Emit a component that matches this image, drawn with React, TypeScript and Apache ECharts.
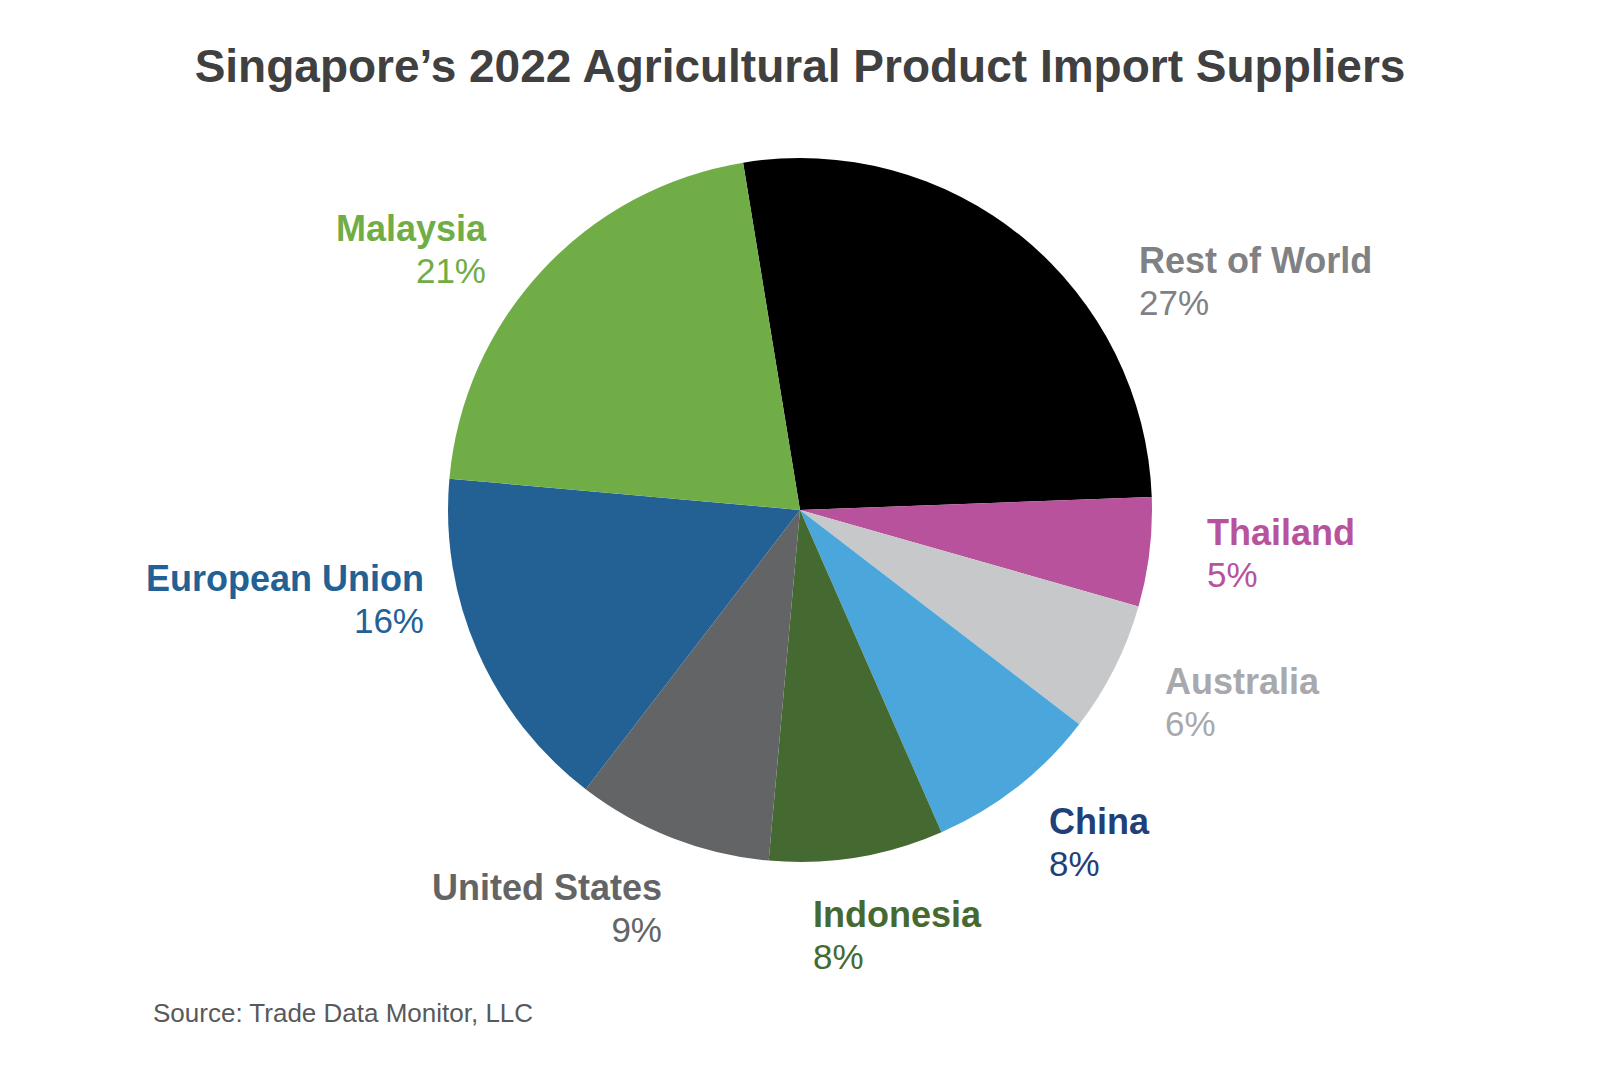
import { useEffect, useRef } from 'react'
import * as echarts from 'echarts'

// Singapore 2022 agricultural import suppliers, share in percent (clockwise from top)
const suppliers = ['Rest of World', 'Thailand', 'Australia', 'China', 'Indonesia', 'United States', 'European Union', 'Malaysia']
const shares = [27, 5, 6, 8, 8, 9, 16, 21]

const sliceColors = ['#000000', '#b8529c', '#c7c8ca', '#4ba7db', '#456a31', '#636466', '#236195', '#70ad47']
const labelColors = ['#808184', '#b8529c', '#a7a9ac', '#213f79', '#456a31', '#636466', '#236195', '#70ad47']

// label anchor [x, y, align] in pixels
const labelAnchors: [number, number, string][] = [
  [1139, 281, 'left'],
  [1207, 553, 'left'],
  [1165, 702, 'left'],
  [1049, 842, 'left'],
  [813, 935, 'left'],
  [662, 908, 'right'],
  [424, 599, 'right'],
  [486, 249, 'right'],
]

export default function App() {
  const chartRef = useRef<HTMLDivElement>(null)

  useEffect(() => {
    if (!chartRef.current) return
    const chart = echarts.init(chartRef.current, null, { renderer: 'svg' })

    const option = {
      animation: false,
      backgroundColor: '#ffffff',
      textStyle: { fontFamily: '"Liberation Sans", Arial, sans-serif' },
      title: {
        text: 'Singapore’s 2022 Agricultural Product Import Suppliers',
        left: 795,
        top: 38,
        textAlign: 'center',
        textStyle: {
          fontSize: 46,
          fontWeight: 'bold',
          color: '#404041',
          fontFamily: '"Liberation Sans", Arial, sans-serif',
        },
      },
      graphic: [
        {
          type: 'text',
          left: 153,
          top: 1000,
          style: {
            text: 'Source: Trade Data Monitor, LLC',
            fontSize: 26,
            fill: '#58595b',
            fontFamily: '"Liberation Sans", Arial, sans-serif',
          },
        },
      ],
      series: [
        {
          type: 'pie',
          center: [800, 510],
          radius: 352,
          startAngle: 99.3,
          clockwise: true,
          avoidLabelOverlap: false,
          itemStyle: { borderWidth: 0 },
          labelLine: { show: false },
          label: {
            show: true,
            position: 'outside',
            formatter: '{n|{b}}\n{p|{c}%}',
            rich: {
              n: { fontSize: 36, fontWeight: 'bold', lineHeight: 42 },
              p: { fontSize: 35, lineHeight: 42 },
            },
          },
          labelLayout: (params: any) => {
            const a = labelAnchors[params.dataIndex]
            return { x: a[0], y: a[1], align: a[2], verticalAlign: 'middle' }
          },
          emphasis: { disabled: true },
          data: suppliers.map((name, i) => ({
            name,
            value: shares[i],
            itemStyle: { color: sliceColors[i] },
            label: { color: labelColors[i] },
          })),
        },
      ],
    }

    chart.setOption(option)
    const handleResize = () => chart.resize()
    window.addEventListener('resize', handleResize)
    return () => {
      window.removeEventListener('resize', handleResize)
      chart.dispose()
    }
  }, [])

  return (
    <div
      ref={chartRef}
      style={{ position: 'fixed', left: 0, top: 0, width: '100vw', height: '100vh' }}
    />
  )
}
